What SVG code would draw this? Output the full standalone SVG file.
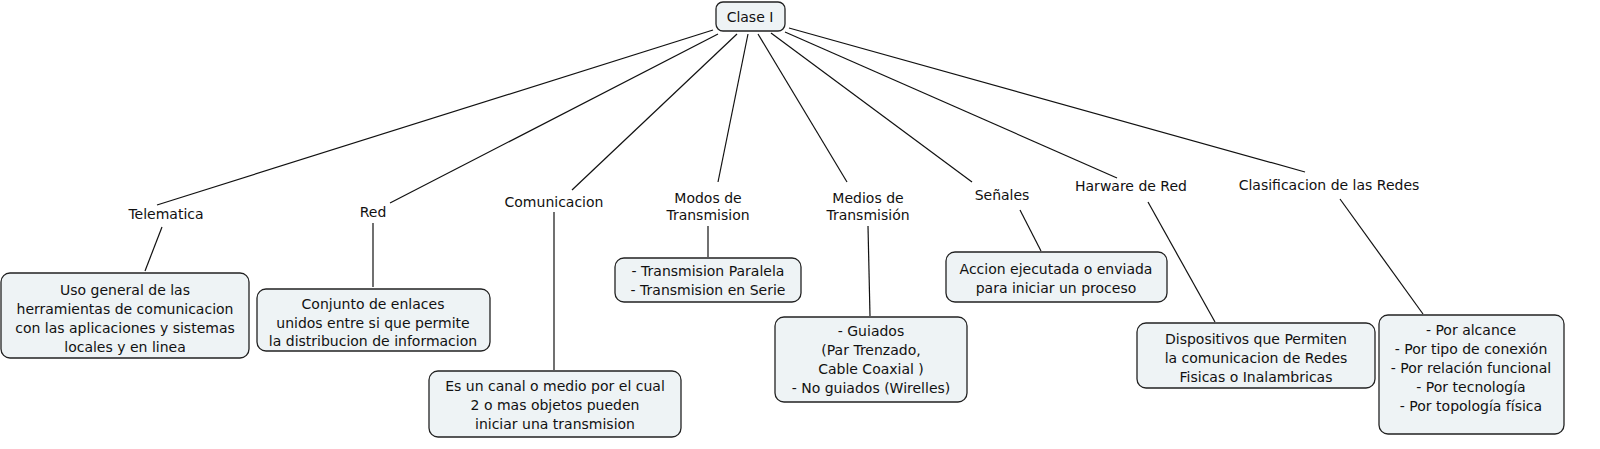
<svg xmlns="http://www.w3.org/2000/svg" width="1600" height="449" viewBox="0 0 1600 449">
<style>
text{font-family:"DejaVu Sans","Verdana",sans-serif;font-size:14px;fill:#111;text-anchor:middle}
.b{fill:#eef3f5;stroke:#222;stroke-width:1.3}
.c line{stroke:#111;stroke-width:1.2}
</style>
<rect width="1600" height="449" fill="#fff"/>
<g class="c">
<line x1="713" y1="30" x2="157" y2="205"/><line x1="718" y1="34" x2="390" y2="203"/>
<line x1="737" y1="34" x2="572" y2="190"/><line x1="748" y1="34" x2="718" y2="182"/>
<line x1="758" y1="34" x2="847" y2="182"/><line x1="771" y1="33" x2="972" y2="182"/>
<line x1="785" y1="32" x2="1117" y2="178"/><line x1="789" y1="28" x2="1305" y2="172"/>
<line x1="162" y1="227" x2="145" y2="271"/><line x1="373" y1="223" x2="373" y2="287"/>
<line x1="554" y1="212" x2="554" y2="370"/><line x1="708" y1="226" x2="708" y2="257"/>
<line x1="868" y1="226" x2="870" y2="316"/><line x1="1020" y1="210" x2="1041" y2="251"/>
<line x1="1148" y1="202" x2="1215" y2="322"/><line x1="1340" y1="199" x2="1423" y2="314"/>
</g>
<g id="clase"><rect class="b" x="716" y="2" width="69" height="29" rx="7"/><text x="750" y="22">Clase I</text></g>
<g id="telematica"><text x="166" y="219">Telematica</text></g>
<g id="telematica-d"><rect class="b" x="1" y="273" width="248" height="85" rx="9"/><text x="125" y="295">Uso general de las</text><text x="125" y="314">herramientas de comunicacion</text><text x="125" y="333">con las aplicaciones y sistemas</text><text x="125" y="352">locales y en linea</text></g>
<g id="red"><text x="373" y="217">Red</text></g>
<g id="red-d"><rect class="b" x="257" y="289" width="233" height="62" rx="9"/><text x="373" y="309">Conjunto de enlaces</text><text x="373" y="328">unidos entre si que permite</text><text x="373" y="346">la distribucion de informacion</text></g>
<g id="comunicacion"><text x="554" y="207">Comunicacion</text></g>
<g id="comunicacion-d"><rect class="b" x="429" y="371" width="252" height="66" rx="9"/><text x="555" y="391">Es un canal o medio por el cual</text><text x="555" y="410">2 o mas objetos pueden</text><text x="555" y="429">iniciar una transmision</text></g>
<g id="modos"><text x="708" y="203">Modos de</text><text x="708" y="220">Transmision</text></g>
<g id="modos-d"><rect class="b" x="615" y="258" width="186" height="44" rx="9"/><text x="708" y="276">- Transmision Paralela</text><text x="708" y="295">- Transmision en Serie</text></g>
<g id="medios"><text x="868" y="203">Medios de</text><text x="868" y="220">Transmisión</text></g>
<g id="medios-d"><rect class="b" x="775" y="317" width="192" height="85" rx="9"/><text x="871" y="336">- Guiados</text><text x="871" y="355">(Par Trenzado,</text><text x="871" y="374">Cable Coaxial )</text><text x="871" y="393">- No guiados (Wirelles)</text></g>
<g id="senales"><text x="1002" y="200">Señales</text></g>
<g id="senales-d"><rect class="b" x="946" y="252" width="221" height="50" rx="9"/><text x="1056" y="274">Accion ejecutada o enviada</text><text x="1056" y="293">para iniciar un proceso</text></g>
<g id="harware"><text x="1131" y="191">Harware de Red</text></g>
<g id="harware-d"><rect class="b" x="1137" y="323" width="238" height="65" rx="9"/><text x="1256" y="344">Dispositivos que Permiten</text><text x="1256" y="363">la comunicacion de Redes</text><text x="1256" y="382">Fisicas o Inalambricas</text></g>
<g id="clasificacion"><text x="1329" y="190">Clasificacion de las Redes</text></g>
<g id="clasificacion-d"><rect class="b" x="1379" y="315" width="185" height="119" rx="9"/><text x="1471" y="335">- Por alcance</text><text x="1471" y="354">- Por tipo de conexión</text><text x="1471" y="373">- Por relación funcional</text><text x="1471" y="392">- Por tecnología</text><text x="1471" y="411">- Por topología física</text></g>
</svg>
